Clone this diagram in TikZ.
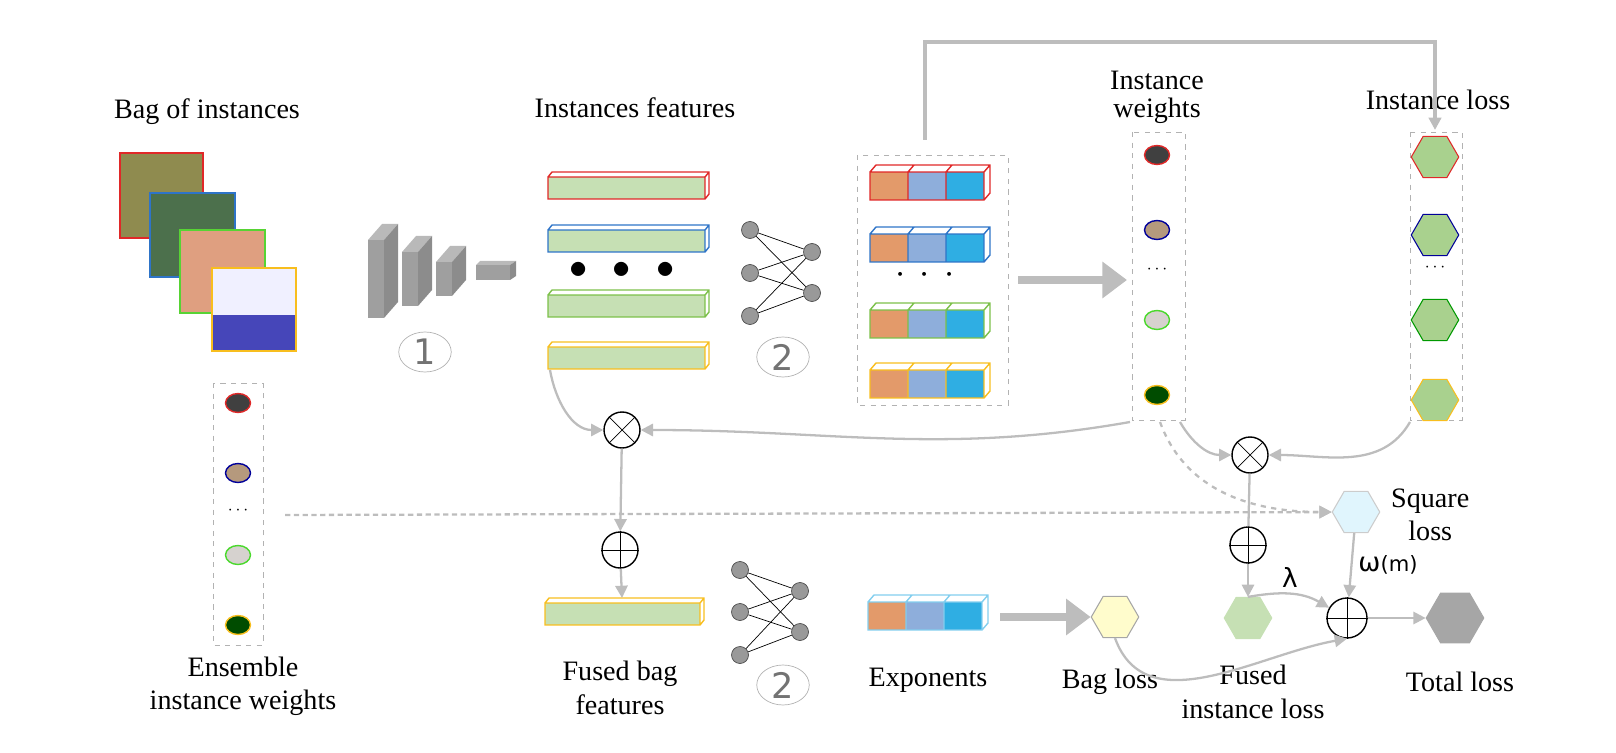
\documentclass[tikz,border=0pt]{standalone}
\usepackage{fontspec}
\setmainfont{Liberation Serif}
\newfontfamily\sansf{DejaVu Sans}
\usetikzlibrary{shapes.geometric,arrows.meta,calc}
\definecolor{cgrey}{HTML}{BDBDBD}
\definecolor{cfeat}{HTML}{C6E0B4}
\definecolor{corange}{HTML}{E39A6A}
\definecolor{cblue}{HTML}{8EAEDB}
\definecolor{ccyan}{HTML}{2FAEE3}
\definecolor{cred}{HTML}{E02828}
\definecolor{cbl}{HTML}{2E74C8}
\definecolor{cgr}{HTML}{7CC04A}
\definecolor{cyl}{HTML}{F8BE1E}
\definecolor{chex}{HTML}{A9D18E}
\tikzset{
  x=0.02cm, y=-0.02cm,
  lbl/.style={font=\fontsize{16}{19}\selectfont, align=center},
  conn/.style={draw=cgrey, line width=1.3pt, -{Triangle[length=7pt,width=7pt]}},
  fat/.style={draw=cgrey, line width=4pt, -{Triangle[length=14pt,width=20pt]}},
  box/.style={draw=gray!60, dashed, line width=0.4pt},
  op/.style={circle, draw, line width=0.8pt, minimum size=0.72cm, inner sep=0pt},
  hex/.style={regular polygon, regular polygon sides=6, minimum size=0.95cm, inner sep=0pt, draw=#1, line width=0.6pt},
  wt/.style={ellipse, minimum width=0.5cm, minimum height=0.38cm, inner sep=0pt, draw=#1, line width=0.8pt},
  nn/.style={circle, fill=gray!80, draw=black!70, minimum size=0.34cm, inner sep=0pt},
  num/.style={ellipse, draw=gray!60, minimum width=1.05cm, minimum height=0.8cm, inner sep=0pt, font=\sansf\fontsize{20}{20}\selectfont, text=gray!90!black},
  dots/.style={font=\fontsize{20}{20}\selectfont\bfseries},
}
\newcommand{\featbar}[3]{% x,y (top-left), colour
  \fill[cfeat] (#1,#2) rectangle ++(157,22);
  \draw[#3, line width=0.8pt] (#1,#2) rectangle ++(157,22)
    (#1,#2) -- ++(4,-5) -- ++(157,0) -- ++(0,22) -- ++(-4,5) (#1+157,#2) -- ++(4,-5);}
\newcommand{\cubes}[3]{% x,y (top-left), colour
  \fill[corange] (#1,#2) rectangle ++(38,28);
  \fill[cblue] (#1+38,#2) rectangle ++(38,28);
  \fill[ccyan] (#1+76,#2) rectangle ++(38,28);
  \draw[#3, line width=0.8pt] (#1,#2) rectangle ++(114,28) (#1+38,#2) -- ++(0,28) (#1+76,#2) -- ++(0,28)
    (#1,#2) -- ++(6,-7) -- ++(114,0) -- ++(0,28) -- ++(-6,7) (#1+114,#2) -- ++(6,-7)
    (#1+38,#2) -- ++(6,-7) (#1+76,#2) -- ++(6,-7);}
\begin{document}
\begin{tikzpicture}
\useasboundingbox (0,0) rectangle (1616,753);

% bag of instances
\node[lbl] (tbag) at (207,112) {Bag of instances};
\filldraw[fill=olive!45!gray, draw=cred, line width=1pt] (120,153) rectangle (203,238);
\filldraw[fill=black!65!green!40!gray, draw=cbl, line width=1pt] (150,193) rectangle (235,277);
\filldraw[fill=brown!50!pink, draw=cgr!70!green, line width=1pt] (180,230) rectangle (265,313);
\fill[blue!6!white] (212,268) rectangle (296,315);
\fill[blue!45!gray] (212,315) rectangle (296,351);
\draw[cyl, line width=1pt] (212,268) rectangle (296,351);

% CNN
\foreach \xa/\ya/\yb/\w in {368/240/318/16, 402/252/306/16, 436/262/296/16}{
  \fill[gray!75] (\xa,\ya) rectangle (\xa+\w,\yb);
  \fill[gray!55] (\xa,\ya) -- (\xa+14,\ya-16) -- (\xa+\w+14,\ya-16) -- (\xa+\w,\ya) -- cycle;
  \fill[gray!90] (\xa+\w,\ya) -- (\xa+\w+14,\ya-16) -- (\xa+\w+14,\yb-16) -- (\xa+\w,\yb) -- cycle;}
\fill[gray!75] (476,265) rectangle (510,280);
\fill[gray!55] (476,265) -- (480,261) -- (516,261) -- (510,265) -- cycle;
\fill[gray!90] (510,265) -- (516,261) -- (516,276) -- (510,280) -- cycle;
\node[num] (n1) at (425,352) {1};

% instance features
\node[lbl] (tfeat) at (635,108) {Instances features};
\featbar{548}{177}{cred}
\featbar{548}{230}{cbl}
\node[dots] (fdots) at (622,270) {$\bullet\ \ \bullet\ \ \bullet$};
\featbar{548}{295}{cgr}
\featbar{548}{347}{cyl}
\coordinate (fy) at (550,370);

% network 1
\foreach \i/\p in {a/{750,230},b/{750,273},c/{750,316}} \node[nn] (l\i) at (\p) {};
\foreach \i/\p in {a/{812,252},b/{812,293}} \node[nn] (r\i) at (\p) {};
\foreach \u in {la,lb,lc} \foreach \v in {ra,rb} \draw (\u) -- (\v);
\node[num] (n2a) at (783,357) {2};

% cubes
\draw[box] (857,155) rectangle (1008,405);
\cubes{870}{172}{cred}
\cubes{870}{234}{cbl}
\node[dots] (cdots) at (925,275) {$\cdot\,\cdot\,\cdot$};
\cubes{870}{310}{cgr}
\cubes{870}{370}{cyl}
\coordinate (ctop) at (925,140);
\coordinate (cright) at (1018,280);
\coordinate (wleft) at (1127,280);
\draw[fat] (cright) -- (wleft);

% instance weights
\node[lbl] (tw) at (1157,97) {Instance\\[-3pt]weights};
\draw[box] (1132,132) rectangle (1185,420);
\node[wt=cred, fill=black!75] (w1) at (1157,155) {};
\node[wt=blue!60!black, fill=brown!55!gray!80] (w2) at (1157,230) {};
\node[font=\bfseries] (wd) at (1157,270) {$\cdots$};
\node[wt=cgr!60!green, fill=brown!15!gray!35] (w3) at (1157,320) {};
\node[wt=cyl, fill=black!70!green] (w4) at (1157,395) {};
\coordinate (wb1) at (1130,422);
\coordinate (wb2) at (1160,422);
\coordinate (wb3) at (1180,422);

% instance loss
\node[lbl] (tl) at (1438,100) {Instance loss};
\draw[box] (1410,132) rectangle (1462,420);
\node[hex=cred, fill=chex] (h1) at (1435,157) {};
\node[hex=blue!60!black, fill=chex] (h2) at (1435,235) {};
\node[font=\bfseries] (hd) at (1435,268) {$\cdots$};
\node[hex=green!60!black, fill=chex] (h3) at (1435,320) {};
\node[hex=cyl, fill=chex] (h4) at (1435,400) {};
\coordinate (lt) at (1435,130);
\coordinate (lb) at (1410,422);
\draw[conn, line width=2pt] (ctop) |- (1435,42) -- (lt);

% ensemble weights
\draw[box] (213,383) rectangle (263,645);
\node[wt=cred, fill=black!75] (e1) at (238,403) {};
\node[wt=blue!60!black, fill=brown!55!gray!80] (e2) at (238,473) {};
\node[font=\bfseries] (ed) at (238,511) {$\cdots$};
\node[wt=cgr!60!green, fill=brown!15!gray!35] (e3) at (238,555) {};
\node[wt=cyl, fill=black!70!green] (e4) at (238,625) {};
\node[lbl] (te) at (243,686) {Ensemble\\instance weights};
\coordinate (eright) at (285,515);

% fusion of bag features
\node[op] (ot1) at (622,430) {};
\draw (ot1.north east) -- (ot1.south west) (ot1.north west) -- (ot1.south east);
\node[op] (op1) at (620,550) {};
\draw (op1.north) -- (op1.south) (op1.west) -- (op1.east);
\draw[conn] (fy) to[out=-80,in=180] (ot1);
\draw[conn] (wb1) to[out=190,in=0] (ot1);
\fill[cfeat] (545,603) rectangle (700,625);
\draw[cyl, line width=0.8pt] (545,603) rectangle (700,625) (545,603) -- (549,598) -- (704,598) -- (704,620) -- (700,625) (700,603) -- (704,598);
\coordinate (fbag) at (622,598);
\draw[conn] (ot1) -- (op1);
\draw[conn] (op1) -- (fbag);
\node[lbl] (tfb) at (620,688) {Fused bag\\features};

% network 2
\foreach \i/\p in {a/{740,570},b/{740,612},c/{740,655}} \node[nn] (m\i) at (\p) {};
\foreach \i/\p in {a/{800,591},b/{800,632}} \node[nn] (s\i) at (\p) {};
\foreach \u in {ma,mb,mc} \foreach \v in {sa,sb} \draw (\u) -- (\v);
\node[num] (n2b) at (783,685) {2};

% exponents and losses
\cubes{868}{602}{ccyan!60}
\coordinate (xr) at (1000,617);
\node[lbl] (tx) at (928,680) {Exponents};
\node[hex=gray!70, fill=yellow!20] (bag) at (1115,617) {};
\draw[fat] (xr) -- (bag);
\node[lbl] (tb) at (1110,682) {Bag loss};

\node[op] (ot2) at (1250,455) {};
\draw (ot2.north east) -- (ot2.south west) (ot2.north west) -- (ot2.south east);
\draw[conn] (wb3) to[out=-60,in=180] (ot2);
\draw[conn] (lb) to[out=-120,in=0] (ot2);

\node[hex=gray!40, fill=cyan!12] (sq) at (1356,512) {};
\node[lbl, anchor=west] (tsq) at (1385,515) {Square\\loss};
\draw[conn, dashed] (wb2) to[out=-70,in=180] (sq);
\draw[conn, densely dashed] (eright) -- (sq);

\node[op] (op2) at (1248,545) {};
\draw (op2.north) -- (op2.south) (op2.west) -- (op2.east);
\node[hex=cfeat, fill=cfeat] (fil) at (1248,618) {};
\draw[cgrey, line width=1.3pt] (ot2) -- (op2);
\draw[conn] (op2) -- (fil.north);
\node[lbl] (tfil) at (1253,692) {Fused\\instance loss};

\node[op, minimum size=0.8cm] (op3) at (1347,618) {};
\draw (op3.north) -- (op3.south) (op3.west) -- (op3.east);
\draw[conn] (fil.north) to[out=10,in=150] node[above, font=\sansf\fontsize{15}{15}\selectfont] {λ} (op3);
\draw[conn] (sq) -- node[right, font=\sansf\fontsize{15}{15}\selectfont] {ω\fontsize{12}{12}\selectfont(m)} (op3);
\draw[conn] (bag.south) to[out=-70,in=190] (op3.south);
\node[hex=gray!70, fill=gray!70, minimum size=1.15cm] (tot) at (1455,618) {};
\draw[conn] (op3) -- (tot);
\node[lbl] (tt) at (1460,682) {Total loss};
\end{tikzpicture}
\end{document}
